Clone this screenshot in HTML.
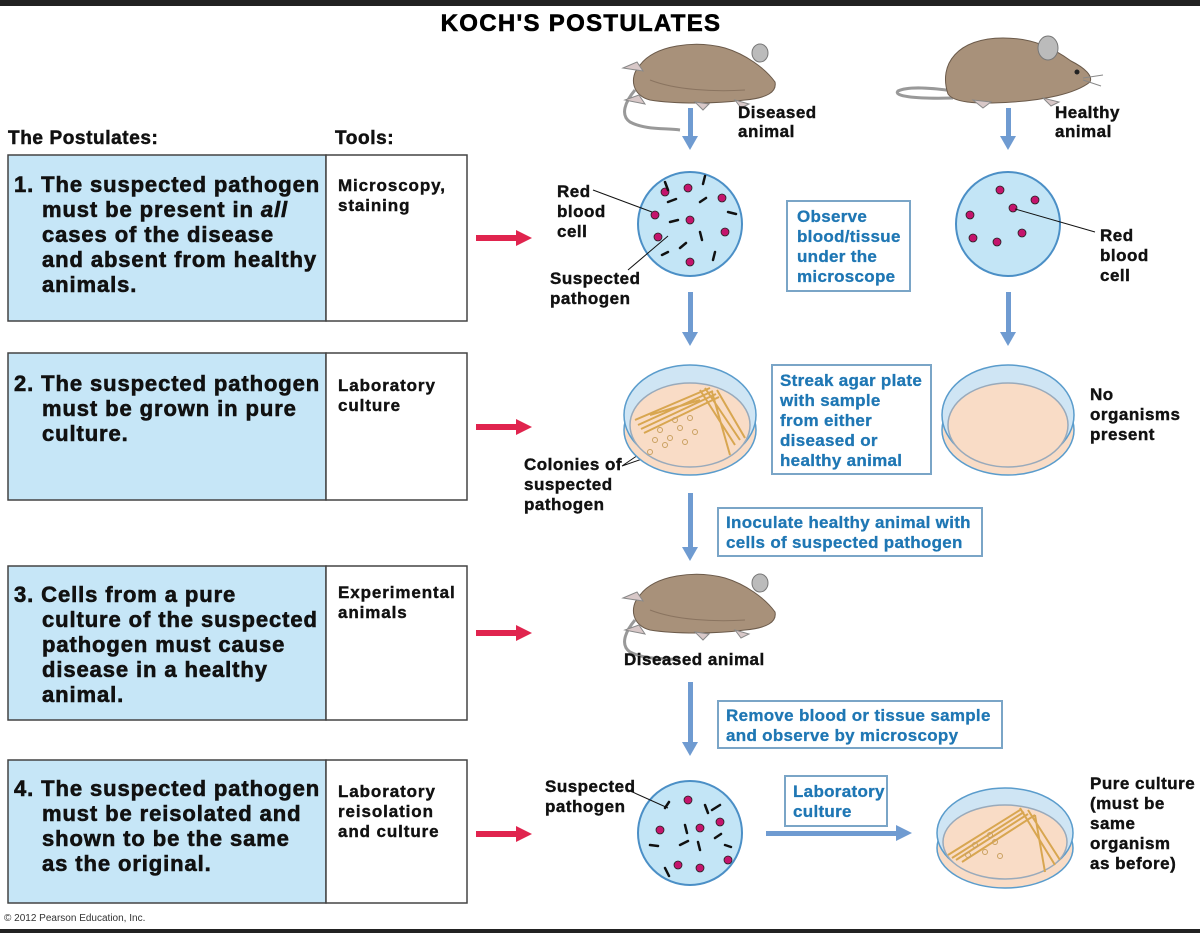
<!DOCTYPE html>
<html><head><meta charset="utf-8"><style>
html,body{margin:0;padding:0;background:#fff}
svg{display:block}
</style></head><body>
<svg width="1200" height="933" viewBox="0 0 1200 933" xmlns="http://www.w3.org/2000/svg" font-family="Liberation Sans, Arial, sans-serif">
<defs>
<g id="mouseD">
<path d="M40,50 C30,62 25,75 35,82 C50,90 70,88 85,90" fill="none" stroke="#999" stroke-width="3"/>
<path d="M45,25 C60,5 100,0 130,8 C150,14 170,28 180,42 C182,52 172,58 150,60 C120,64 80,64 55,60 C38,56 33,38 45,25Z" fill="#a8917a" stroke="#6b5a4a" stroke-width="1"/>
<path d="M55,40 C80,50 120,52 150,50" fill="none" stroke="#8a7460" stroke-width="1"/>
<ellipse cx="165" cy="13" rx="8" ry="9" fill="#bbb" stroke="#777"/>
<path d="M28,28 l14,-6 l6,9Z M30,60 l14,-5 l6,9Z M100,62 l8,8 l6,-6Z M140,60 l6,8 l8,-4Z" fill="#d8c8c8" stroke="#888"/>
</g>
</defs>
<rect x="0" y="0" width="1200" height="6" fill="#222"/>
<rect x="0" y="929" width="1200" height="4" fill="#222"/>
<text x="581" y="31" text-anchor="middle" font-weight="bold" font-size="24" letter-spacing="1.3" fill="#000" stroke="#000" stroke-width="0.6">KOCH'S POSTULATES</text>

<g font-weight="bold" fill="#111" stroke="#111" stroke-width="0.5" letter-spacing="0.6">
<text x="8" y="144" font-size="19">The Postulates:</text>
<text x="335" y="144" font-size="19">Tools:</text>
</g>

<g stroke="#444" stroke-width="1.5">
<rect x="8" y="155" width="318" height="166" fill="#c6e6f7"/><rect x="326" y="155" width="141" height="166" fill="#fff"/>
<rect x="8" y="353" width="318" height="147" fill="#c6e6f7"/><rect x="326" y="353" width="141" height="147" fill="#fff"/>
<rect x="8" y="566" width="318" height="154" fill="#c6e6f7"/><rect x="326" y="566" width="141" height="154" fill="#fff"/>
<rect x="8" y="760" width="318" height="143" fill="#c6e6f7"/><rect x="326" y="760" width="141" height="143" fill="#fff"/>
</g>
<g font-weight="bold" font-size="22" fill="#111" stroke="#111" stroke-width="0.6" letter-spacing="0.9">
<text x="14" y="192">1. The suspected pathogen</text>
<text x="42" y="217">must be present in <tspan font-style="italic">all</tspan></text>
<text x="42" y="242">cases of the disease</text>
<text x="42" y="267">and absent from healthy</text>
<text x="42" y="292">animals.</text>
<text x="14" y="391">2. The suspected pathogen</text>
<text x="42" y="416">must be grown in pure</text>
<text x="42" y="441">culture.</text>
<text x="14" y="602">3. Cells from a pure</text>
<text x="42" y="627">culture of the suspected</text>
<text x="42" y="652">pathogen must cause</text>
<text x="42" y="677">disease in a healthy</text>
<text x="42" y="702">animal.</text>
<text x="14" y="796">4. The suspected pathogen</text>
<text x="42" y="821">must be reisolated and</text>
<text x="42" y="846">shown to be the same</text>
<text x="42" y="871">as the original.</text>
</g>
<g font-weight="bold" font-size="17" fill="#111" stroke="#111" stroke-width="0.4" letter-spacing="0.9">
<text x="338" y="191">Microscopy,</text><text x="338" y="211">staining</text>
<text x="338" y="391">Laboratory</text><text x="338" y="411">culture</text>
<text x="338" y="598">Experimental</text><text x="338" y="618">animals</text>
<text x="338" y="797">Laboratory</text><text x="338" y="817">reisolation</text><text x="338" y="837">and culture</text>
</g>
<text x="4" y="921" font-size="10" fill="#333">© 2012 Pearson Education, Inc.</text>

<g fill="#e0244e">
<rect x="476" y="235" width="42" height="6"/><path d="M516,230 L532,238 L516,246Z"/>
<rect x="476" y="424" width="42" height="6"/><path d="M516,419 L532,427 L516,435Z"/>
<rect x="476" y="630" width="42" height="6"/><path d="M516,625 L532,633 L516,641Z"/>
<rect x="476" y="831" width="42" height="6"/><path d="M516,826 L532,834 L516,842Z"/>
</g>

<g fill="#6f9bd1">
<rect x="688" y="108" width="5" height="30"/><path d="M682,136 L690,150 L698,136Z"/>
<rect x="1006" y="108" width="5" height="30"/><path d="M1000,136 L1008,150 L1016,136Z"/>
<rect x="688" y="292" width="5" height="42"/><path d="M682,332 L690,346 L698,332Z"/>
<rect x="1006" y="292" width="5" height="42"/><path d="M1000,332 L1008,346 L1016,332Z"/>
<rect x="688" y="493" width="5" height="56"/><path d="M682,547 L690,561 L698,547Z"/>
<rect x="688" y="682" width="5" height="62"/><path d="M682,742 L690,756 L698,742Z"/>
<rect x="766" y="831" width="132" height="5"/><path d="M896,825 L912,833 L896,841Z"/>
</g>

<g transform="translate(595,40)"><use href="#mouseD"/></g>
<g transform="translate(595,570)"><use href="#mouseD"/></g>
<g transform="translate(893,36)">
<path d="M60,55 C40,52 15,50 5,55 C0,60 20,63 60,62" fill="none" stroke="#999" stroke-width="3"/>
<path d="M55,58 C45,28 65,2 110,2 C140,2 160,12 178,25 C192,32 200,40 197,46 C182,58 150,64 120,66 C90,68 62,68 55,58Z" fill="#a8917a" stroke="#6b5a4a"/>
<ellipse cx="155" cy="12" rx="10" ry="12" fill="#bbb" stroke="#777"/>
<circle cx="184" cy="36" r="2.5" fill="#222"/>
<path d="M190,42 l20,-3 M190,44 l18,6" stroke="#888"/>
<path d="M80,64 l10,8 l8,-6Z M150,62 l8,8 l8,-4Z" fill="#d8c8c8" stroke="#888"/>
</g>
<g font-weight="bold" font-size="17" fill="#111" stroke="#111" stroke-width="0.4" letter-spacing="0.5">
<text x="738" y="118">Diseased</text><text x="738" y="137">animal</text>
<text x="1055" y="118">Healthy</text><text x="1055" y="137">animal</text>
</g>

<g stroke="#4b8fc6" stroke-width="2" fill="#c3e5f6">
<circle cx="690" cy="224" r="52"/>
<circle cx="1008" cy="224" r="52"/>
<circle cx="690" cy="833" r="52"/>
</g>
<g fill="#c4146c" stroke="#222" stroke-width="0.8">
<circle cx="665" cy="192" r="4"/><circle cx="688" cy="188" r="4"/><circle cx="655" cy="215" r="4"/><circle cx="690" cy="220" r="4"/><circle cx="722" cy="198" r="4"/><circle cx="658" cy="237" r="4"/><circle cx="690" cy="262" r="4"/><circle cx="725" cy="232" r="4"/>
<circle cx="1000" cy="190" r="4"/><circle cx="1035" cy="200" r="4"/><circle cx="970" cy="215" r="4"/><circle cx="1013" cy="208" r="4"/><circle cx="973" cy="238" r="4"/><circle cx="997" cy="242" r="4"/><circle cx="1022" cy="233" r="4"/>
<circle cx="688" cy="800" r="4"/><circle cx="660" cy="830" r="4"/><circle cx="720" cy="822" r="4"/><circle cx="678" cy="865" r="4"/><circle cx="700" cy="868" r="4"/><circle cx="728" cy="860" r="4"/><circle cx="700" cy="828" r="4"/>
</g>
<g stroke="#111" stroke-width="2.5" stroke-linecap="round">
<path d="M665,182 l3,8 M705,176 l-2,8 M668,202 l8,-3 M700,202 l6,-4 M728,212 l8,2 M670,222 l8,-2 M700,232 l2,8 M680,248 l6,-5 M715,252 l-2,8 M662,255 l6,-3"/>
<path d="M665,808 l4,-6 M705,805 l3,8 M712,810 l8,-5 M685,825 l2,8 M650,845 l8,1 M680,845 l8,-4 M715,838 l6,-4 M725,845 l6,2 M665,868 l4,8 M700,850 l-2,-8"/>
</g>
<g stroke="#111" stroke-width="1" fill="none">
<path d="M593,190 L652,212"/><path d="M628,270 L668,236"/>
<path d="M1015,209 L1095,232"/>
<path d="M622,466 L660,440 M622,466 L668,450"/>
<path d="M628,790 L668,808"/>
</g>
<g font-weight="bold" font-size="17" fill="#111" stroke="#111" stroke-width="0.4" letter-spacing="0.5">
<text x="557" y="197">Red</text><text x="557" y="217">blood</text><text x="557" y="237">cell</text>
<text x="550" y="284">Suspected</text><text x="550" y="304">pathogen</text>
<text x="1100" y="241">Red</text><text x="1100" y="261">blood</text><text x="1100" y="281">cell</text>
<text x="1090" y="400">No</text><text x="1090" y="420">organisms</text><text x="1090" y="440">present</text>
<text x="524" y="470">Colonies of</text><text x="524" y="490">suspected</text><text x="524" y="510">pathogen</text>
<text x="624" y="665">Diseased animal</text>
<text x="545" y="792">Suspected</text><text x="545" y="812">pathogen</text>
<text x="1090" y="789">Pure culture</text><text x="1090" y="809">(must be</text><text x="1090" y="829">same</text><text x="1090" y="849">organism</text><text x="1090" y="869">as before)</text>
</g>

<g stroke="#5a9ccc" stroke-width="1.5">
<ellipse cx="690" cy="430" rx="66" ry="45" fill="#f9dcc6"/>
<ellipse cx="690" cy="415" rx="66" ry="50" fill="#cfe5f4"/>
<ellipse cx="690" cy="425" rx="60" ry="42" fill="#f9dcc6" stroke="#9ab"/>
<ellipse cx="1008" cy="430" rx="66" ry="45" fill="#f9dcc6"/>
<ellipse cx="1008" cy="415" rx="66" ry="50" fill="#cfe5f4"/>
<ellipse cx="1008" cy="425" rx="60" ry="42" fill="#f9dcc6" stroke="#9ab"/>
<ellipse cx="1005" cy="848" rx="68" ry="40" fill="#f9dcc6"/>
<ellipse cx="1005" cy="833" rx="68" ry="45" fill="#cfe5f4"/>
<ellipse cx="1005" cy="842" rx="62" ry="37" fill="#f9dcc6" stroke="#9ab"/>
</g>
<g stroke="#d8a650" stroke-width="2" fill="none">
<path d="M635,420 L710,388 M638,425 L713,391 M641,429 L716,394 M644,433 L719,397 M700,390 L735,445 M705,388 L740,440 M712,392 L730,455 M717,390 L745,438 M650,415 L700,400"/>
<path d="M948,855 L1020,810 M952,858 L1024,812 M956,860 L1028,814 M962,862 L1035,815 M1020,808 L1055,865 M1028,810 L1060,860 M1035,815 L1045,872"/>
</g>
<g stroke="#c9a060" stroke-width="1" fill="none">
<circle cx="660" cy="430" r="2.5"/><circle cx="670" cy="438" r="2.5"/><circle cx="680" cy="428" r="2.5"/><circle cx="665" cy="445" r="2.5"/><circle cx="685" cy="442" r="2.5"/><circle cx="675" cy="420" r="2.5"/><circle cx="655" cy="440" r="2.5"/><circle cx="690" cy="418" r="2.5"/><circle cx="695" cy="432" r="2.5"/><circle cx="650" cy="452" r="2.5"/>
<circle cx="975" cy="845" r="2.5"/><circle cx="985" cy="852" r="2.5"/><circle cx="995" cy="842" r="2.5"/><circle cx="968" cy="855" r="2.5"/><circle cx="1000" cy="856" r="2.5"/><circle cx="990" cy="835" r="2.5"/>
</g>

<g fill="#fff" stroke="#7aa5c7" stroke-width="2">
<rect x="787" y="201" width="123" height="90"/>
<rect x="772" y="365" width="159" height="109"/>
<rect x="718" y="508" width="264" height="48"/>
<rect x="718" y="701" width="284" height="47"/>
<rect x="785" y="776" width="102" height="50"/>
</g>
<g font-weight="bold" font-size="17" fill="#1f77b4" stroke="#1f77b4" stroke-width="0.3" letter-spacing="0.3">
<text x="797" y="222">Observe</text><text x="797" y="242">blood/tissue</text><text x="797" y="262">under the</text><text x="797" y="282">microscope</text>
<text x="780" y="386">Streak agar plate</text><text x="780" y="406">with sample</text><text x="780" y="426">from either</text><text x="780" y="446">diseased or</text><text x="780" y="466">healthy animal</text>
<text x="726" y="528">Inoculate healthy animal with</text><text x="726" y="548">cells of suspected pathogen</text>
<text x="726" y="721">Remove blood or tissue sample</text><text x="726" y="741">and observe by microscopy</text>
<text x="793" y="797">Laboratory</text><text x="793" y="817">culture</text>
</g>
</svg>
</body></html>
